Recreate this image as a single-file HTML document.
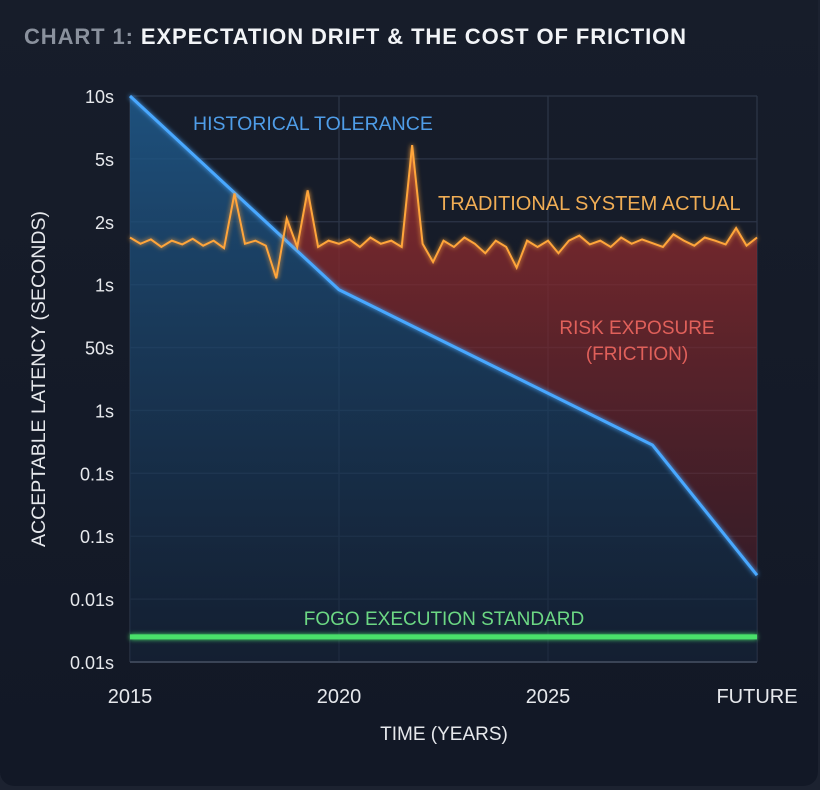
<!DOCTYPE html>
<html><head><meta charset="utf-8"><style>
html,body{margin:0;padding:0;background:#1c2230;}
body{width:820px;height:790px;overflow:hidden;font-family:"Liberation Sans",sans-serif;}
#card{position:absolute;left:0;top:0;width:818px;height:786px;border-radius:0 0 14px 14px;background:linear-gradient(180deg,#171d2a 0%,#121826 100%);}
svg{position:absolute;left:0;top:0;}
</style></head><body>
<div id="card"></div>
<svg id="chart" width="820" height="790">
<defs>
<linearGradient id="blueFill" x1="0" y1="0" x2="0" y2="1"><stop offset="0" stop-color="#1f5a8c" stop-opacity="0.85"/><stop offset="1" stop-color="#142338" stop-opacity="0.6"/></linearGradient>
<linearGradient id="redFill" x1="0" y1="0" x2="0" y2="1"><stop offset="0" stop-color="#8e2c2e" stop-opacity="0.92"/><stop offset="1" stop-color="#5a1f28" stop-opacity="0.5"/></linearGradient>
<filter id="glow" filterUnits="userSpaceOnUse" x="0" y="0" width="820" height="790"><feGaussianBlur stdDeviation="2.5" result="b"/><feMerge><feMergeNode in="b"/><feMergeNode in="SourceGraphic"/></feMerge></filter>
</defs>
<text x="24" y="44" font-size="22" font-weight="bold" letter-spacing="0.9" fill="#8a919d">CHART 1: <tspan fill="#f2f4f7">EXPECTATION DRIFT &amp; THE COST OF FRICTION</tspan></text>
<g id="grid"></g>
<g id="marks"></g>
<g id="axes"></g>
</svg>
<script>
const yTickLabels=["10s","5s","2s","1s","50s","1s","0.1s","0.1s","0.01s","0.01s"];
const xTickLabels=["2015","2020","2025","FUTURE"];
const xTickYears=[2015,2020,2025,2030];
const blueYears=[2015,2020,2027.5,2030];
const blueLevels=[0,3.08,5.55,7.62];
const orangeStart=2015, orangeStep=0.25;
const orangeLevels=[2.25,2.35,2.28,2.4,2.3,2.36,2.27,2.38,2.3,2.42,1.55,2.35,2.3,2.38,2.9,1.95,2.4,1.5,2.4,2.3,2.35,2.28,2.4,2.25,2.35,2.3,2.4,0.78,2.35,2.64,2.3,2.4,2.25,2.35,2.5,2.3,2.4,2.73,2.3,2.4,2.3,2.5,2.3,2.22,2.36,2.3,2.4,2.25,2.35,2.28,2.34,2.4,2.2,2.3,2.38,2.25,2.3,2.36,2.1,2.38,2.25];
const greenLevel=8.6;
const PL=130,PR=757,PT=96,PB=662;
function xs(y){return PL+(y-2015)/(2030-2015)*(PR-PL);}
function ys(l){return PT+l/9*(PB-PT);}
const NS="http://www.w3.org/2000/svg";
function mk(tag,attrs,parent){const e=document.createElementNS(NS,tag);for(const k in attrs)e.setAttribute(k,attrs[k]);parent.appendChild(e);return e;}
const gridG=document.getElementById('grid'),marksG=document.getElementById('marks'),axesG=document.getElementById('axes');
yTickLabels.forEach((t,i)=>{
 const g=mk('line',{x1:PL,x2:PR,y1:ys(i),y2:ys(i),stroke:'#2c3547','stroke-width':1.3},gridG);
 
 
 const tx=mk('text',{x:114,y:ys(i)+7,'text-anchor':'end','font-size':18,fill:'#e6e8ec'},axesG);tx.textContent=t;
 
 
});
xTickYears.forEach((yr,i)=>{
 const g=mk('line',{x1:xs(yr),x2:xs(yr),y1:PT,y2:PB,stroke:'#2c3547','stroke-width':1.3},gridG);
 
 
 const tx=mk('text',{x:xs(yr),y:703,'text-anchor':'middle','font-size':20,fill:'#e6e8ec'},axesG);tx.textContent=xTickLabels[i];
 
 
});
const baseLine=mk('line',{x1:PL,x2:PR,y1:PB,y2:PB,stroke:'#3a4456','stroke-width':2},axesG);


function blueAt(yr){for(let i=0;i<blueYears.length-1;i++){if(yr<=blueYears[i+1]){const f=(yr-blueYears[i])/(blueYears[i+1]-blueYears[i]);return blueLevels[i]+f*(blueLevels[i+1]-blueLevels[i]);}}return blueLevels[blueLevels.length-1];}
const oPts=orangeLevels.map((v,i)=>[orangeStart+i*orangeStep,v]);
let redTop=[],redBot=[];
oPts.forEach(([yr,v])=>{const b=blueAt(yr);if(b>v){redTop.push(xs(yr)+','+ys(v));redBot.push(xs(yr)+','+ys(b));}});
const redArea=mk('polygon',{points:redTop.concat(redBot.reverse()).join(' '),fill:'url(#redFill)'},marksG);


const bp=blueYears.map((y,i)=>xs(y)+','+ys(blueLevels[i]));
const blueArea=mk('polygon',{points:bp.join(' ')+' '+xs(2030)+','+PB+' '+xs(2015)+','+PB,fill:'url(#blueFill)'},marksG);


const blueLine=mk('polyline',{points:bp.join(' '),fill:'none',stroke:'#4aa8ff','stroke-width':3,filter:'url(#glow)'},marksG);


const orangeLine=mk('polyline',{points:oPts.map(([y,v])=>xs(y)+','+ys(v)).join(' '),fill:'none',stroke:'#ffa53a','stroke-width':2,filter:'url(#glow)'},marksG);


const greenLine=mk('line',{x1:PL,x2:PR,y1:ys(greenLevel),y2:ys(greenLevel),stroke:'#4ae06a','stroke-width':5,filter:'url(#glow)'},marksG);


function lab(txt,x,y,fill,size,name,anchor){const t=mk('text',{x:x,y:y,'font-size':size,fill:fill,'text-anchor':anchor||'start'},axesG);t.textContent=txt;


return t;}
lab('HISTORICAL TOLERANCE',193,130,'#4f9de8',19.5,'historical-tolerance-label');
lab('TRADITIONAL SYSTEM ACTUAL',438,210,'#f0ad55',20,'traditional-system-label');
lab('RISK EXPOSURE',637,334,'#e0605a',19,'risk-exposure-label','middle');
lab('(FRICTION)',637,360,'#e0605a',19,'risk-exposure-label-2','middle');
lab('FOGO EXECUTION STANDARD',444,625,'#6cd884',19,'fogo-standard-label','middle');
lab('TIME (YEARS)',444,740,'#e6e8ec',19,'x-axis-title','middle');
const yTitle=lab('ACCEPTABLE LATENCY (SECONDS)',0,0,'#e6e8ec',19.5,'y-axis-title','middle');
yTitle.setAttribute('transform','translate(45,379) rotate(-90)');
</script>
</body></html>
